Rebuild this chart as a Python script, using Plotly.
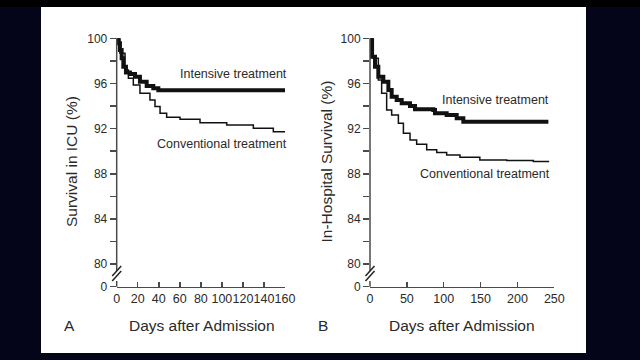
import plotly.graph_objects as go

# ---- data ----
icu_days_int = [0, 1.6, 3.1, 4.7, 6.3, 8.8, 12.6, 17.4, 22.1, 28.5, 34.8, 39.6, 160]
icu_surv_int = [100, 99.56, 98.96, 98.23, 97.49, 96.96, 96.84, 96.6, 96.16, 95.78, 95.57, 95.4, 95.36]
icu_days_conv = [0, 3.1, 7.9, 11.1, 15.8, 22.1, 31.6, 36.4, 41.2, 47.5, 60.2, 79.2, 104.6, 129.9, 148.9, 160]
icu_surv_conv = [100, 98.67, 97.2, 96.46, 95.87, 95.13, 94.54, 93.95, 93.36, 93.0, 92.83, 92.53, 92.33, 92.04, 91.73, 91.73]

hosp_days_int = [0, 2.3, 6.8, 11.3, 18.1, 24.9, 29.4, 36.2, 43, 54.3, 61, 85.9, 88.2, 104, 117.6, 126.6, 242]
hosp_surv_int = [100, 98.37, 97.49, 96.6, 96.16, 95.42, 94.83, 94.54, 94.25, 94.0, 93.72, 93.65, 93.36, 93.2, 92.92, 92.62, 92.62]
hosp_days_conv = [0, 4.5, 11.3, 15.8, 22.6, 29.4, 38.5, 45.3, 54.3, 63.3, 76.9, 90.5, 104, 122, 149, 185.5, 221.6, 242]
hosp_surv_conv = [100, 98.23, 96.31, 95.13, 93.65, 93.21, 92.47, 91.59, 91.0, 90.62, 90.12, 89.88, 89.67, 89.47, 89.23, 89.17, 89.08, 89.03]

y_tickvals = [78, 80, 82, 84, 86, 88, 90, 92, 94, 96, 98, 100]
y_ticktext = ["0", "80", "", "84", "", "88", "", "92", "", "96", "", "100"]
xA_ticks = [0, 20, 40, 60, 80, 100, 120, 140, 160]
xB_ticks = [0, 50, 100, 150, 200, 250]

W, H = 640, 360
FONT = "Liberation Sans, Arial, sans-serif"
TXT = "#2a2a2a"
AX = "#4a4a4a"
LINE = "#111111"
BG = "#05051a"

def px(x):
    return x / W

def py(y):
    return 1 - y / H

fig = go.Figure()
fig.add_trace(go.Scatter(x=icu_days_conv, y=icu_surv_conv, mode="lines", line=dict(shape="hv", width=1.5, color=LINE), xaxis="x", yaxis="y", showlegend=False))
fig.add_trace(go.Scatter(x=icu_days_int, y=icu_surv_int, mode="lines", line=dict(shape="hv", width=4, color=LINE), xaxis="x", yaxis="y", showlegend=False))
fig.add_trace(go.Scatter(x=hosp_days_conv, y=hosp_surv_conv, mode="lines", line=dict(shape="hv", width=1.5, color=LINE), xaxis="x2", yaxis="y2", showlegend=False))
fig.add_trace(go.Scatter(x=hosp_days_int, y=hosp_surv_int, mode="lines", line=dict(shape="hv", width=4, color=LINE), xaxis="x2", yaxis="y2", showlegend=False))

ydom = [py(286.7), py(38.3)]
xA0, xA1 = 116.7, 285.0
xB0, xB1 = 370.0, 554.3

common_x = dict(showline=True, linecolor=AX, linewidth=1.5, ticks="inside", ticklen=5, tickwidth=1.5,
                tickcolor=AX, showgrid=False, zeroline=False, tickfont=dict(family=FONT, size=12.5, color=TXT),
                tickangle=0, automargin=False, fixedrange=True)
common_y = dict(range=[78, 100], domain=ydom, showline=False, ticks="outside", ticklen=6, tickwidth=1.5,
                tickcolor=AX, showgrid=False, zeroline=False, tickvals=y_tickvals, ticktext=y_ticktext,
                tickfont=dict(family=FONT, size=12, color=TXT), automargin=False, fixedrange=True)

fig.update_layout(
    template="none",
    width=W, height=H, margin=dict(l=0, r=0, t=0, b=0, pad=0), autosize=False,
    paper_bgcolor=BG, plot_bgcolor="rgba(0,0,0,0)",
    xaxis=dict(domain=[px(xA0), px(xA1)], range=[0, 160], tickvals=xA_ticks, anchor="y", **common_x),
    yaxis=dict(anchor="x", **common_y),
    xaxis2=dict(domain=[px(xB0), px(xB1)], range=[0, 250], tickvals=xB_ticks, anchor="y2", **common_x),
    yaxis2=dict(anchor="x2", **common_y),
)

shapes = []
# white panel
shapes.append(dict(type="rect", xref="paper", yref="paper", x0=px(41), x1=px(586), y0=py(353), y1=py(7),
                   fillcolor="white", line=dict(width=0), layer="below"))
# black strip at top
shapes.append(dict(type="rect", xref="paper", yref="paper", x0=0, x1=1, y0=py(7), y1=1,
                   fillcolor="#000000", line=dict(width=0), layer="below"))
for x0 in (xA0, xB0):
    # y axis line with break
    shapes.append(dict(type="line", xref="paper", yref="paper", x0=px(x0), x1=px(x0), y0=py(38.3), y1=py(271),
                       line=dict(color=AX, width=1.5)))
    shapes.append(dict(type="line", xref="paper", yref="paper", x0=px(x0), x1=px(x0), y0=py(281), y1=py(286.7),
                       line=dict(color=AX, width=1.5)))
    for off in (0, 5):
        shapes.append(dict(type="line", xref="paper", yref="paper", x0=px(x0 - 4.5), x1=px(x0 + 4.5),
                           y0=py(276 + off), y1=py(266 + off), line=dict(color="#222222", width=1.5)))
fig.update_layout(shapes=shapes)

ann = []
def txt(x, y, s, size, xanchor="center", angle=0):
    ann.append(dict(text=s, xref="paper", yref="paper", x=px(x), y=py(y), showarrow=False, xanchor=xanchor,
                    yanchor="middle", textangle=angle, font=dict(family=FONT, size=size, color=TXT)))

txt(233, 74, "Intensive treatment", 12.5)
txt(222, 144, "Conventional treatment", 12.5)
txt(495, 100, "Intensive treatment", 12.5)
txt(485, 173.5, "Conventional treatment", 12.5)
txt(201.5, 325, "Days after Admission", 15.5)
txt(462, 325, "Days after Admission", 15.5)
txt(69, 325, "A", 15.5)
txt(323, 325, "B", 15.5)
txt(72, 162, "Survival in ICU (%)", 15.5, angle=-90)
txt(326, 161.5, "In-Hospital Survival (%)", 15.5, angle=-90)
fig.update_layout(annotations=ann)

fig.write_html("out.html",
               config={"displayModeBar": False, "staticPlot": True},
               post_script="document.body.style.margin='0';document.body.style.padding='0';"
                           "document.body.style.background='" + BG + "';"
                           "document.documentElement.style.overflow='hidden';")
